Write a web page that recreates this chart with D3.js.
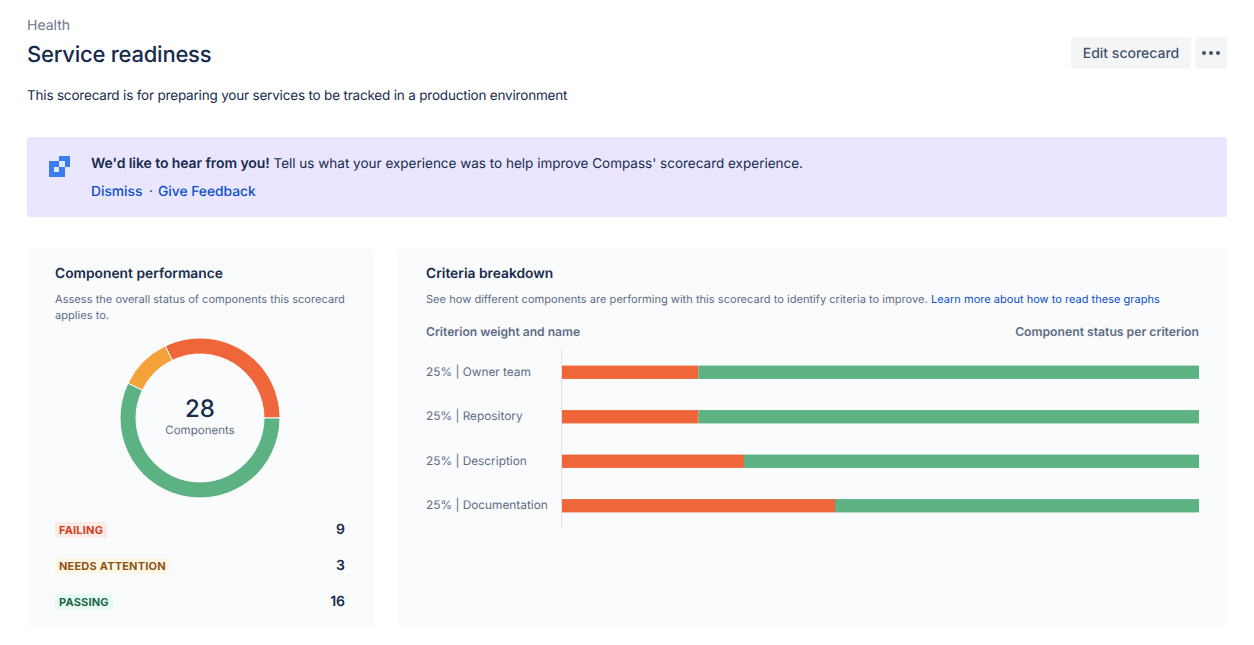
<!DOCTYPE html>
<html>
<head>
<meta charset="utf-8">
<title>Service readiness</title>
<script src="https://cdn.jsdelivr.net/npm/d3@7"></script>
<style>
	html, body { margin: 0; padding: 0; background: #fff; }
	svg { display: block; font-family: Inter, "Noto Sans", sans-serif; }
	text { text-rendering: geometricPrecision; }
</style>
</head>
<body>
<div id="chart"></div>
<script>
/** Chart data **/
var statusNames = ["FAILING", "NEEDS ATTENTION", "PASSING"];
var statusCounts = [9, 3, 16];
var totalComponents = 28;

var criteria = ["25% | Owner team", "25% | Repository", "25% | Description", "25% | Documentation"];
var criteriaFailing = [6, 6, 8, 12];
var criteriaPassing = [22, 22, 20, 16];

var statusColors = ["#EF663B", "#F4A23A", "#5DB284"];
var badgeFills = ["#FCEAE6", "#FFF7E6", "#E6FBF1"];
var badgeInks = ["#D2401C", "#8F5316", "#226646"];

var navy = "#172B4D";
var slate = "#5E6C84";

function label(svg, x, y, str, size, fill, weight, anchor)
{
	return svg.append("text")
		.attr("x", x)
		.attr("y", y)
		.attr("font-size", size)
		.attr("fill", fill)
		.attr("font-weight", weight || 400)
		.attr("text-anchor", anchor || "start")
		.text(str);
}

function drawHeader(svg)
{
	label(svg, 27, 30, "Health", 14, "#6B778C");
	label(svg, 27, 62, "Service readiness", 22, navy, 500).attr("letter-spacing", -0.24);
	label(svg, 27, 100, "This scorecard is for preparing your services to be tracked in a production environment", 13.5, navy).attr("letter-spacing", -0.19);

	svg.append("rect").attr("x", 1071).attr("y", 37).attr("width", 120).attr("height", 32).attr("rx", 3).attr("fill", "#F4F5F7");
	svg.append("rect").attr("x", 1195).attr("y", 37).attr("width", 32).attr("height", 32).attr("rx", 3).attr("fill", "#F4F5F7");
	label(svg, 1131, 58, "Edit scorecard", 14, "#42526E", 500, "middle");
	[1204, 1211, 1218].forEach(function(cx)
	{
		svg.append("circle").attr("cx", cx).attr("cy", 53).attr("r", 2).attr("fill", "#42526E");
	});
}

function drawBanner(svg)
{
	svg.append("rect").attr("x", 27).attr("y", 137).attr("width", 1200).attr("height", 80).attr("rx", 3).attr("fill", "#EAE6FF");

	// Small logo made of squares
	var logo = svg.append("g");
	logo.append("rect").attr("x", 49).attr("y", 161).attr("width", 16).attr("height", 16).attr("fill", "#3B7CF0");
	logo.append("rect").attr("x", 59).attr("y", 156).attr("width", 11).attr("height", 11).attr("fill", "#3B7CF0");
	logo.append("rect").attr("x", 54).attr("y", 167).attr("width", 5).attr("height", 5).attr("fill", "#E4E6FB");
	logo.append("rect").attr("x", 59).attr("y", 161).attr("width", 6).attr("height", 6).attr("fill", "#DCE6FB");

	var line = label(svg, 91, 168, "", 14, navy);
	line.append("tspan").attr("font-weight", 600).attr("letter-spacing", -0.08).text("We'd like to hear from you!");
	line.append("tspan").attr("font-size", 13.5).text(" Tell us what your experience was to help improve Compass' scorecard experience.");

	label(svg, 91, 196, "Dismiss", 13.8, "#0C4FC9", 500);
	label(svg, 149, 196, "·", 14, "#42526E");
	label(svg, 158, 196, "Give Feedback", 13.8, "#0C4FC9", 500);
}

function drawDonut(svg)
{
	svg.append("rect").attr("x", 27).attr("y", 247).attr("width", 347).attr("height", 380).attr("rx", 3).attr("fill", "#FAFBFC");

	label(svg, 55, 278, "Component performance", 13.8, navy, 600);
	label(svg, 55, 303, "Assess the overall status of components this scorecard", 11.1, slate);
	label(svg, 55, 319, "applies to.", 11.1, slate);

	// Slices run counter-clockwise from three o'clock
	var pie = d3.pie()
		.sort(null)
		.startAngle(Math.PI / 2)
		.endAngle(Math.PI / 2 - 2 * Math.PI);

	var arc = d3.arc().innerRadius(64).outerRadius(80);

	svg.append("g")
		.attr("transform", "translate(200,418)")
		.selectAll("path")
		.data(pie(statusCounts))
		.enter()
		.append("path")
		.attr("d", arc)
		.attr("fill", function(d, i) { return statusColors[i]; })
		.attr("stroke", "#FAFBFC")
		.attr("stroke-width", 1);

	label(svg, 200, 417, String(totalComponents), 24, navy, 500, "middle");
	label(svg, 200, 434, "Components", 11.5, slate, 400, "middle");

	var rowY = d3.scalePoint().domain(statusNames).range([530, 602]);

	statusNames.forEach(function(name, i)
	{
		var y = rowY(name);
		var t = label(svg, 59, y + 4, name, 11, badgeInks[i], 700).attr("letter-spacing", 0.2);
		var w = t.node().getComputedTextLength();
		svg.insert("rect", function() { return t.node(); })
			.attr("x", 55)
			.attr("y", y - 8)
			.attr("width", w + 8)
			.attr("height", 16)
			.attr("rx", 3)
			.attr("fill", badgeFills[i]);
		label(svg, 345, y + 4, String(statusCounts[i]), 14, navy, 600, "end");
	});
}

function drawBreakdown(svg)
{
	svg.append("rect").attr("x", 398).attr("y", 247).attr("width", 829).attr("height", 380).attr("rx", 3).attr("fill", "#FAFBFC");

	label(svg, 426, 278, "Criteria breakdown", 13.8, navy, 600);
	label(svg, 426, 303, "See how different components are performing with this scorecard to identify criteria to improve.", 11.1, slate);
	label(svg, 931, 303, "Learn more about how to read these graphs", 11.05, "#0C4FC9");
	label(svg, 426, 336, "Criterion weight and name", 12.1, slate, 600);
	label(svg, 1199, 336, "Component status per criterion", 12.2, slate, 600, "end");

	var x = d3.scaleLinear().domain([0, totalComponents]).range([562, 1199]);
	var y = d3.scaleBand().domain(criteria).range([350, 528]).paddingInner(0.7).paddingOuter(0.35);

	var rows = svg.append("g").selectAll("g")
		.data(criteria)
		.enter()
		.append("g");

	rows.append("rect")
		.attr("x", x(0))
		.attr("y", function(d) { return y(d); })
		.attr("width", function(d, i) { return x(criteriaFailing[i]) - x(0); })
		.attr("height", y.bandwidth())
		.attr("fill", statusColors[0]);

	rows.append("rect")
		.attr("x", function(d, i) { return x(criteriaFailing[i]); })
		.attr("y", function(d) { return y(d); })
		.attr("width", function(d, i) { return x(criteriaFailing[i] + criteriaPassing[i]) - x(criteriaFailing[i]); })
		.attr("height", y.bandwidth())
		.attr("fill", statusColors[2]);

	rows.append("text")
		.attr("x", 426)
		.attr("y", function(d) { return y(d) + y.bandwidth() / 2 + 3.5; })
		.attr("font-size", 11.85)
		.attr("fill", slate)
		.text(function(d) { return d; });

	svg.append("line")
		.attr("x1", 561.5).attr("x2", 561.5)
		.attr("y1", 350).attr("y2", 528)
		.attr("stroke", "#DFE1E6");
}

var svg = d3.select("#chart")
	.append("svg")
	.attr("width", 1254)
	.attr("height", 645);

drawHeader(svg);
drawBanner(svg);
drawDonut(svg);
drawBreakdown(svg);
</script>
</body>
</html>
